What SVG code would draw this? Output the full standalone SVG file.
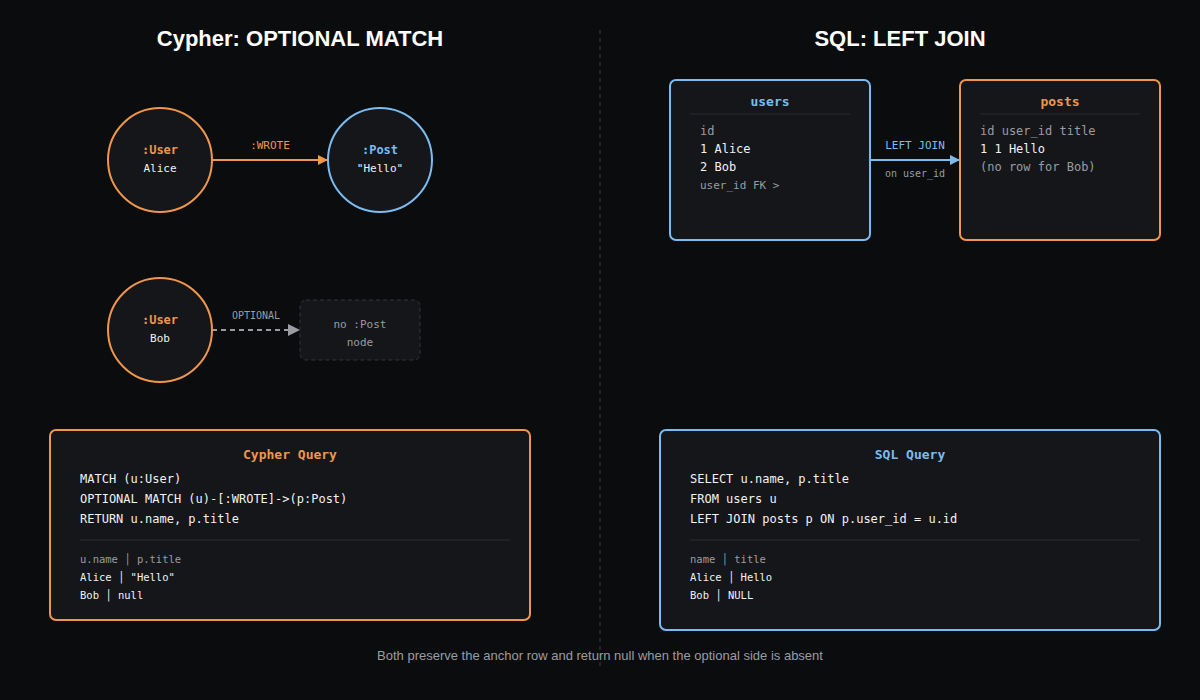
<svg xmlns="http://www.w3.org/2000/svg" width="1200" height="700" viewBox="0 0 1200 700">
<style>
.t{font-family:"Liberation Sans",Arial,sans-serif;font-weight:bold;font-size:22px;fill:#fff;text-anchor:middle}
.m{font-family:"DejaVu Sans Mono","Liberation Mono",monospace}
.c{text-anchor:middle}
.or{fill:#f0964a}.bl{fill:#7bbcf0}.w{fill:#f2f2f2}.g{fill:#9a9ca2}.dg{fill:#7d7f86}
.b{font-weight:bold}
.box{fill:#15161a;stroke-width:2}
</style>
<defs>
<marker id="ao" viewBox="0 0 10 10" refX="10" refY="5" markerWidth="6.5" markerHeight="5" orient="auto" markerUnits="strokeWidth"><path d="M0,0L10,5L0,10z" fill="#f0964a"/></marker>
<marker id="ab" viewBox="0 0 10 10" refX="10" refY="5" markerWidth="6.5" markerHeight="5" orient="auto" markerUnits="strokeWidth"><path d="M0,0L10,5L0,10z" fill="#7bbcf0"/></marker>
<marker id="ag" viewBox="0 0 10 10" refX="10" refY="5" markerWidth="8" markerHeight="6" orient="auto" markerUnits="strokeWidth"><path d="M0,0L10,5L0,10z" fill="#9a9ca2"/></marker>
</defs>
<rect width="1200" height="700" fill="#0b0c0e"/>
<line x1="600" y1="30" x2="600" y2="670" stroke="#3a3c42" stroke-dasharray="4 4"/>
<text class="t" x="300" y="46">Cypher: OPTIONAL MATCH</text>
<text class="t" x="900" y="46">SQL: LEFT JOIN</text>
<g id="connectors">
<line x1="212" y1="160" x2="328" y2="160" stroke="#f0964a" stroke-width="2" marker-end="url(#ao)"/>
<text class="m c or" x="270" y="149" font-size="11">:WROTE</text>
<line x1="212" y1="330" x2="300" y2="330" stroke="#9a9ca2" stroke-width="2" stroke-dasharray="5 4" marker-end="url(#ag)"/>
<text class="m c g" x="256" y="319" font-size="10">OPTIONAL</text>
<line x1="870" y1="160" x2="960" y2="160" stroke="#7bbcf0" stroke-width="2" marker-end="url(#ab)"/>
<text class="m c bl" x="915" y="149" font-size="11">LEFT JOIN</text>
<text class="m c g" x="915" y="177" font-size="10">on user_id</text>
</g>
<g id="alice"><circle cx="160" cy="160" r="52" class="box" stroke="#f0964a"/>
<text class="m c or b" x="160" y="154" font-size="12">:User</text><text class="m c w" x="160" y="172" font-size="11">Alice</text></g>
<g id="post"><circle cx="380" cy="160" r="52" class="box" stroke="#7bbcf0"/>
<text class="m c bl b" x="380" y="154" font-size="12">:Post</text><text class="m c w" x="380" y="172" font-size="11">"Hello"</text></g>
<g id="bob"><circle cx="160" cy="330" r="52" class="box" stroke="#f0964a"/>
<text class="m c or b" x="160" y="324" font-size="12">:User</text><text class="m c w" x="160" y="342" font-size="11">Bob</text></g>
<g id="nopost"><rect x="300" y="300" width="120" height="60" rx="6" fill="#15161a" stroke="#33353b" stroke-dasharray="4 3"/>
<text class="m c g" x="360" y="328" font-size="11">no :Post</text><text class="m c g" x="360" y="346" font-size="11">node</text></g>
<g id="users"><rect x="670" y="80" width="200" height="160" rx="6" class="box" stroke="#7bbcf0"/>
<text class="m c bl b" x="770" y="106" font-size="13">users</text>
<line x1="690" y1="114" x2="850" y2="114" stroke="#26282d"/>
<text class="m g" x="700" y="135" font-size="12">id</text>
<text class="m w" x="700" y="153" font-size="12">1 Alice</text>
<text class="m w" x="700" y="171" font-size="12">2 Bob</text>
<text class="m g" x="700" y="189" font-size="11">user_id FK &gt;</text></g>
<g id="posts"><rect x="960" y="80" width="200" height="160" rx="6" class="box" stroke="#f0964a"/>
<text class="m c or b" x="1060" y="106" font-size="13">posts</text>
<line x1="980" y1="114" x2="1140" y2="114" stroke="#26282d"/>
<text class="m g" x="980" y="135" font-size="12">id user_id title</text>
<text class="m w" x="980" y="153" font-size="12">1 1 Hello</text>
<text class="m g" x="980" y="171" font-size="12">(no row for Bob)</text></g>
<g id="cypherq"><rect x="50" y="430" width="480" height="190" rx="6" class="box" stroke="#f0964a"/>
<text class="m c or b" x="290" y="459" font-size="13">Cypher Query</text>
<text class="m w" x="80" y="483" font-size="12">MATCH (u:User)</text>
<text class="m w" x="80" y="503" font-size="12">OPTIONAL MATCH (u)-[:WROTE]-&gt;(p:Post)</text>
<text class="m w" x="80" y="523" font-size="12">RETURN u.name, p.title</text>
<line x1="80" y1="540" x2="510" y2="540" stroke="#2a2c31"/>
<text class="m g" x="80" y="563" font-size="10.5">u.name │ p.title</text>
<text class="m w" x="80" y="581" font-size="10.5">Alice │ "Hello"</text>
<text class="m w" x="80" y="599" font-size="10.5">Bob │ null</text></g>
<g id="sqlq"><rect x="660" y="430" width="500" height="200" rx="6" class="box" stroke="#7bbcf0"/>
<text class="m c bl b" x="910" y="459" font-size="13">SQL Query</text>
<text class="m w" x="690" y="483" font-size="12">SELECT u.name, p.title</text>
<text class="m w" x="690" y="503" font-size="12">FROM users u</text>
<text class="m w" x="690" y="523" font-size="12">LEFT JOIN posts p ON p.user_id = u.id</text>
<line x1="690" y1="540" x2="1140" y2="540" stroke="#2a2c31"/>
<text class="m g" x="690" y="563" font-size="10.5">name │ title</text>
<text class="m w" x="690" y="581" font-size="10.5">Alice │ Hello</text>
<text class="m w" x="690" y="599" font-size="10.5">Bob │ NULL</text></g>
<text x="600" y="660" text-anchor="middle" font-family="Liberation Sans,Arial,sans-serif" font-size="13" fill="#9a9ca2">Both preserve the anchor row and return null when the optional side is absent</text>
</svg>
